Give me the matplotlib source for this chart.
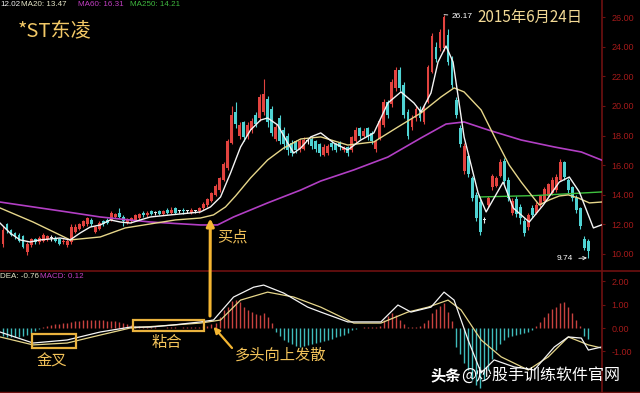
import numpy as np
import matplotlib
matplotlib.use('Agg')
from matplotlib import pyplot as plt
from matplotlib import ticker as tkr
from matplotlib.patches import Rectangle

plt.rcParams['font.family'] = ['Liberation Sans', 'Noto Sans CJK SC']
CJK = ['Noto Sans CJK SC', 'DejaVu Sans']

# daily candles
opens = [
    10.7, 12.0, 11.6, 11.4, 11.3, 11.2, 10.1, 10.6, 11.0, 10.8,
    10.9, 11.0, 11.1, 11.1, 11.0, 10.8, 10.6, 10.8, 11.5, 11.7,
    11.9, 12.0, 12.3, 11.5, 11.7, 12.2, 12.3, 12.3, 12.5, 12.8,
    12.5, 12.1, 12.2, 12.3, 12.4, 12.8, 12.6, 12.9, 12.8, 12.9,
    12.7, 13.0, 12.8, 13.1, 12.9, 13.0, 12.9, 12.8, 12.9, 12.9,
    13.1, 13.3, 13.6, 14.0, 14.3, 15.0, 15.8, 17.5, 19.6, 18.0,
    18.9, 18.0, 18.4, 19.4, 19.2, 19.6, 20.5, 19.8, 17.8, 19.2,
    18.4, 18.0, 17.5, 17.6, 17.0, 17.1, 17.6, 17.8, 17.6, 17.4,
    16.7, 16.8, 17.5, 17.4, 17.5, 17.0, 17.2, 17.0, 17.6, 18.5,
    18.0, 18.5, 18.2, 17.1, 17.8, 18.7, 20.3, 20.1, 21.2, 22.4,
    21.4, 19.6, 18.6, 19.2, 19.8, 18.9, 20.3, 22.3, 24.0, 23.9,
    23.9, 24.8, 23.2, 20.4, 18.5, 15.6, 16.6, 15.1, 14.0, 13.5,
    12.3, 13.3, 14.5, 14.6, 15.3, 16.3, 15.0, 12.8, 13.7, 13.2,
    12.2, 11.8, 13.1, 12.8, 13.3, 13.6, 13.9, 14.1, 14.3, 15.0,
    16.2, 15.0, 14.5, 13.8, 13.1, 11.0, 10.9]
closes = [
    11.6, 11.6, 11.3, 11.2, 10.9, 10.5, 10.7, 11.0, 10.8, 11.1,
    11.3, 11.2, 11.1, 10.9, 10.7, 10.9, 10.9, 11.8, 11.8, 12.0,
    12.2, 12.4, 12.0, 11.8, 12.1, 12.0, 12.1, 12.8, 12.7, 12.5,
    12.2, 12.3, 12.4, 12.6, 12.7, 12.6, 12.8, 12.7, 12.8, 12.7,
    12.9, 12.8, 13.0, 12.8, 12.9, 12.9, 12.9, 13.0, 12.9, 13.1,
    13.4, 13.7, 14.1, 14.6, 15.1, 16.1, 17.6, 19.4, 18.8, 18.7,
    17.9, 18.7, 19.0, 18.8, 20.6, 20.8, 18.9, 18.2, 18.6, 17.6,
    17.4, 17.0, 16.8, 17.0, 17.6, 17.7, 17.6, 17.3, 17.1, 16.8,
    17.2, 17.3, 17.2, 17.0, 17.2, 17.2, 16.8, 17.9, 18.4, 18.0,
    18.3, 17.9, 17.6, 17.6, 19.0, 20.3, 19.4, 21.6, 22.4, 21.2,
    19.4, 18.0, 19.2, 19.8, 19.2, 19.9, 22.6, 24.7, 23.2, 25.0,
    26.0, 23.0, 21.4, 19.4, 17.4, 17.3, 15.4, 13.8, 12.4, 11.5,
    12.3, 13.8, 15.3, 15.1, 16.2, 14.9, 13.8, 13.6, 12.7, 12.4,
    11.4, 12.6, 12.6, 13.3, 13.9, 14.4, 14.7, 15.0, 15.2, 16.2,
    15.2, 14.3, 13.8, 13.0, 11.9, 10.4, 10.2]
highs = [
    11.9, 12.1, 11.7, 11.5, 11.4, 11.3, 10.8, 11.1, 11.1, 11.2,
    11.4, 11.3, 11.3, 11.2, 11.1, 11.0, 11.0, 12.0, 12.0, 12.1,
    12.3, 12.5, 12.4, 11.9, 12.2, 12.3, 12.4, 12.9, 12.8, 13.1,
    12.6, 12.4, 12.5, 12.7, 12.8, 12.9, 12.9, 13.0, 12.9, 13.0,
    13.0, 13.1, 13.2, 13.2, 13.0, 13.1, 13.0, 13.1, 13.0, 13.2,
    13.5, 13.8, 14.2, 14.7, 15.2, 16.2, 17.8, 20.0, 20.3, 18.9,
    19.0, 18.9, 19.2, 19.6, 20.8, 21.8, 20.7, 20.0, 18.8, 19.4,
    18.6, 18.2, 17.7, 17.7, 17.8, 17.9, 17.8, 17.9, 17.7, 17.5,
    17.4, 17.4, 17.6, 17.5, 17.6, 17.3, 17.3, 18.0, 18.6, 18.6,
    18.5, 18.6, 18.3, 17.7, 19.2, 20.5, 20.4, 21.8, 22.6, 22.6,
    21.6, 19.8, 19.4, 20.0, 20.0, 20.1, 22.8, 24.9, 24.3, 25.2,
    26.17, 25.2, 23.4, 20.6, 18.7, 17.5, 16.8, 15.3, 14.2, 13.7,
    12.5, 13.9, 15.4, 15.3, 16.4, 16.5, 15.2, 13.8, 13.9, 13.4,
    12.4, 12.8, 13.3, 13.5, 14.0, 14.5, 14.8, 15.2, 15.4, 16.4,
    16.3, 15.1, 14.6, 14.0, 13.2, 11.2, 11.0]
lows = [
    10.5, 11.4, 11.2, 11.0, 10.8, 10.4, 9.9, 10.5, 10.7, 10.7,
    10.8, 10.9, 10.9, 10.8, 10.6, 10.7, 10.5, 10.7, 11.4, 11.6,
    11.8, 11.9, 11.9, 11.4, 11.6, 11.9, 12.0, 12.2, 12.4, 12.4,
    11.9, 12.0, 12.1, 12.2, 12.3, 12.5, 12.5, 12.6, 12.6, 12.6,
    12.6, 12.7, 12.7, 12.7, 12.8, 12.7, 12.8, 12.7, 12.8, 12.8,
    13.0, 13.2, 13.5, 13.9, 14.2, 14.9, 15.7, 17.4, 18.5, 17.8,
    17.6, 17.8, 18.2, 18.6, 19.0, 19.4, 18.6, 18.0, 17.6, 17.4,
    17.1, 16.7, 16.6, 16.8, 16.9, 17.0, 17.4, 17.1, 16.9, 16.6,
    16.6, 16.7, 17.0, 16.9, 17.0, 16.9, 16.6, 16.9, 17.5, 17.8,
    17.9, 17.7, 17.4, 16.9, 17.7, 18.6, 19.2, 19.9, 21.0, 21.0,
    19.2, 17.8, 18.4, 19.0, 19.0, 18.8, 20.2, 22.2, 23.0, 23.7,
    23.7, 22.8, 21.2, 19.2, 17.2, 15.4, 15.2, 13.6, 12.2, 11.3,
    12.1, 13.2, 14.3, 14.5, 15.2, 14.7, 13.6, 12.6, 12.5, 12.0,
    11.2, 11.6, 12.5, 12.7, 13.2, 13.5, 13.8, 14.0, 14.2, 14.9,
    15.0, 14.1, 13.6, 12.8, 11.7, 10.3, 9.74]

# moving averages, sampled along the drawn curves (x in candle units)
ma5_x = [-0.75, 1.75, 4.25, 6.75, 9.25, 14.25, 16.75, 19.25, 21.75, 24.25,
         26.75, 29.25, 31.75, 34.25, 36.75, 41.75, 46.75, 49.25, 51.75, 54.25,
         56.75, 59.25, 61.75, 64.25, 66, 68.5, 71, 72.5, 74.25, 76.75,
         79.25, 82.5, 86, 89.25, 92.5, 96, 99.25, 102.5, 104.25, 106.75,
         108.5, 110.5, 112.25, 115, 118.5, 120.5, 124.75, 127.25, 131.25, 134.75,
         138.75, 141.25, 143.75, 147.25, 149.25]
ma5_y = [12.09, 11.42, 10.95, 10.81, 10.95, 11.08, 10.95, 11.42, 11.82, 11.96,
         12.30, 12.16, 12.09, 12.30, 12.50, 12.64, 12.77, 12.84, 13.18, 13.85,
         15.47, 17.23, 18.38, 19.05, 19.19, 18.72, 17.50, 16.82, 17.16, 17.91,
         18.18, 17.50, 17.03, 17.70, 18.18, 20.20, 20.95, 20.20, 19.59, 20.88,
         22.97, 24.05, 22.97, 17.91, 14.12, 12.84, 14.86, 13.11, 12.16, 13.31,
         14.86, 15.20, 14.19, 11.76, 11.96]
ma20_x = [-0.75, 7.5, 16.75, 24.25, 30.5, 36.75, 43, 49.25, 52.5, 55.5,
          58, 61.75, 66, 70, 74.25, 79.25, 86, 92.5, 98.5, 104.25,
          109.25, 112.5, 115, 119.25, 123, 126.25, 129.25, 131.75, 133.75, 136.25,
          138.75, 141, 143.5, 146.25, 149.25]
ma20_y = [13.11, 12.16, 10.95, 11.15, 11.76, 12.03, 12.30, 12.43, 12.64, 13.18,
          13.92, 15.14, 16.35, 17.16, 17.77, 17.91, 17.36, 17.57, 18.58, 19.53,
          20.61, 21.22, 20.95, 19.73, 17.70, 16.01, 14.86, 13.99, 13.31, 13.65,
          13.92, 13.99, 13.78, 13.45, 13.51]
ma60_x = [-0.75, 16, 24.25, 36.75, 49.25, 53.5, 57.5, 66, 74.25, 79.25,
          87.5, 96, 104.25, 110.5, 115, 121, 129.25, 137.5, 144.25, 149.25]
ma60_y = [13.51, 12.84, 12.50, 12.16, 11.96, 11.96, 12.50, 13.45, 14.32, 14.93,
          15.68, 16.55, 17.84, 18.78, 18.92, 18.38, 17.70, 17.23, 16.89, 16.35]
ma250_x = [118.75, 133, 149.25]
ma250_y = [13.85, 13.95, 14.19]

# MACD histogram, one bar per candle
macd_bar = [
    -0.35, -0.38, -0.40, -0.40, -0.38, -0.35, -0.30, -0.22, -0.12, -0.05,
    0.03, 0.08, 0.12, 0.15, 0.18, 0.20, 0.22, 0.26, 0.30, 0.32,
    0.34, 0.34, 0.33, 0.34, 0.35, 0.34, 0.32, 0.30, 0.28, 0.24,
    0.20, 0.16, 0.12, 0.10, 0.08, 0.06, 0.05, 0.04, 0.03, 0.02,
    0.02, 0.03, 0.04, 0.03, 0.02, 0.03, 0.04, 0.05, 0.05, 0.06,
    0.08, 0.10, 0.15, 0.20, 0.45, 0.75, 0.90, 1.15, 1.20, 1.10,
    0.90, 0.78, 0.68, 0.60, 0.55, 0.62, 0.48, 0.20, -0.15, -0.35,
    -0.50, -0.60, -0.70, -0.75, -0.80, -0.78, -0.72, -0.70, -0.65, -0.60,
    -0.55, -0.50, -0.45, -0.40, -0.35, -0.28, -0.20, -0.10, -0.05, 0.02,
    0.04, 0.05, 0.05, 0.06, 0.10, 0.35, 0.50, 0.62, 0.55, 0.35,
    0.18, 0.05, 0.04, 0.06, 0.10, 0.20, 0.34, 0.65, 0.80, 0.95,
    1.05, 0.70, 0.30, -0.80, -1.10, -1.50, -1.80, -2.20, -2.45, -2.55,
    -2.20, -1.80, -1.30, -0.95, -0.70, -0.50, -0.38, -0.32, -0.28, -0.24,
    -0.20, -0.16, -0.10, 0.10, 0.25, 0.45, 0.65, 0.80, 0.90, 1.05,
    1.10, 0.90, 0.65, 0.35, 0.10, -0.35, -0.45]
dif_x = [-0.75, 7.5, 16, 24.25, 31.75, 36.75, 42.5, 49.25, 52.5, 57.5,
         62.5, 65, 70, 76, 79.25, 86, 94.25, 98.5, 101.75, 106.75,
         110, 112.5, 116, 119.25, 122.5, 127.5, 132.5, 137.5, 141, 144.25,
         146, 149.25]
dif_y = [-0.17, -0.64, -0.51, -0.17, 0.04, 0.04, 0.13, 0.26, 0.34, 1.32,
         1.74, 1.83, 1.49, 0.89, 0.68, 0.26, 0.26, 0.98, 0.68, 0.89,
         1.53, 1.19, -0.51, -1.91, -1.36, -1.66, -1.79, -0.81, -0.38, -0.43,
         -0.94, -0.81]
dea_x = [-0.75, 7.5, 16, 24.25, 31.75, 49.25, 54.25, 59.25, 66, 72.5,
         79.25, 87.5, 94.25, 101, 106, 111, 114.25, 119.25, 124.25, 131,
         136, 141, 146, 149.25]
dea_y = [-0.38, -0.72, -0.64, -0.30, 0.0, 0.21, 0.34, 1.19, 1.53, 1.32,
         0.89, 0.21, 0.21, 0.68, 0.89, 1.19, 0.77, -0.51, -1.23, -1.79,
         -1.23, -0.38, -0.72, -0.85]

price_ticks = [10, 12, 14, 16, 18, 20, 22, 24, 26]
macd_ticks = [-1, 0, 1, 2]

# colours
UP = '#e2433f'
DOWN = '#4fd3d3'
FLAT = '#e8e8e8'
AXIS_RED = '#6e1010'
LABEL_RED = '#a31a1a'
GOLD = '#f2c25a'

W, H = 640, 393
SEP = 271      # pixel row of the panel divider
AX_R = 602     # pixel column of the price axis

def fx(x):
    return x / W

def fy(y):
    return 1 - y / H

fig = plt.figure(figsize=(W / 100, H / 100), dpi=100, facecolor='black')
ax1 = fig.add_axes([0, fy(SEP), AX_R / W, SEP / H])
ax2 = fig.add_axes([0, 0, AX_R / W, (H - SEP) / H])
ax1.set_zorder(3)

for ax in (ax1, ax2):
    ax.set_facecolor('none')
    for s in ('top', 'bottom', 'left'):
        ax.spines[s].set_visible(False)
    ax.spines['right'].set_color(AXIS_RED)
    ax.spines['right'].set_linewidth(1.2)
    ax.yaxis.tick_right()
    ax.tick_params(axis='y', colors=AXIS_RED, labelcolor=LABEL_RED,
                   labelsize=6.5, length=2, pad=5)
    ax.tick_params(axis='x', bottom=False, labelbottom=False)
    ax.yaxis.set_major_formatter(tkr.FormatStrFormatter('%.2f'))
    ax.set_xlim(-0.75, 149.4)

ax1.set_ylim(8.85, 27.16)
ax1.set_yticks(price_ticks)
ax2.set_ylim(-2.77, 2.43)
ax2.set_yticks(macd_ticks)

# candles
o = np.array(opens)
c = np.array(closes)
hi = np.array(highs)
lo = np.array(lows)
x = np.arange(len(o))
col = np.where(c > o, UP, np.where(c < o, DOWN, FLAT))
ax1.vlines(x, lo, hi, colors=col, lw=0.8, zorder=2)
body = np.maximum(np.abs(c - o), 0.07)
ax1.bar(x, body, bottom=np.minimum(o, c), width=0.72, color=col,
        linewidth=0, zorder=2)

ax1.plot(ma60_x, ma60_y, color='#b23fc4', lw=1.2, zorder=3)
ax1.plot(ma250_x, ma250_y, color='#3fc23f', lw=1.0, zorder=3)
ax1.plot(ma20_x, ma20_y, color='#e6d68a', lw=1.0, zorder=4)
ax1.plot(ma5_x, ma5_y, color='#f4f4f4', lw=1.0, zorder=5)

# MACD panel
hb = np.array(macd_bar)
ax2.vlines(np.arange(len(hb)), 0, hb,
           colors=np.where(hb >= 0, '#c8423f', '#3fbcbc'), lw=1.0)
ax2.plot(dea_x, dea_y, color='#e6d68a', lw=0.9)
ax2.plot(dif_x, dif_y, color='#f4f4f4', lw=0.9)

# divider lines across the full width
fig.add_artist(plt.Line2D([0, 1], [fy(SEP), fy(SEP)], color=AXIS_RED, lw=1.2))
fig.add_artist(plt.Line2D([0, 1], [fy(392), fy(392)], color=AXIS_RED, lw=1.0))

# headers
hdr = [('12.02', '#f0f0f0', 0), ('MA20: 13.47', '#e6e6c8', 21),
       ('MA60: 16.31', '#c23fc2', 78), ('MA250: 14.21', '#3fb83f', 130)]
for t, cl, px in hdr:
    fig.text(fx(px), fy(5), t, color=cl, fontsize=5.8, va='center')
fig.text(fx(0), fy(277), 'DEA: -0.76', color='#e6e6c8', fontsize=5.8, va='center')
fig.text(fx(40), fy(277), 'MACD: 0.12', color='#c23fc2', fontsize=5.8, va='center')

fig.text(fx(18), fy(31), '*ST东凌', color='#f2c866', fontsize=14.5,
         family=CJK, va='center')
fig.text(fx(477), fy(17), '2015年6月24日', color='#f3da96', fontsize=11,
         family=CJK, va='center')

# high / low marks
imax = int(np.argmax(hi))
imin = int(np.argmin(lo))
ax1.annotate('%.2f' % hi[imax], xy=(imax, hi[imax]), xytext=(452, H - 16),
             textcoords='figure pixels', color='white', fontsize=6, va='center',
             arrowprops=dict(arrowstyle='-', color='white', lw=0.6,
                             shrinkA=1, shrinkB=0),
             annotation_clip=False)
ax1.annotate('%.2f' % lo[imin], xy=(imin, lo[imin]), xytext=(557, H - 259),
             textcoords='figure pixels', color='white', fontsize=6, va='center',
             arrowprops=dict(arrowstyle='->', color='white', lw=0.6,
                             shrinkA=2, shrinkB=1, mutation_scale=6),
             annotation_clip=False)

# buy point arrow
ax1.annotate('', xy=(51.7, 12.4), xytext=(210, H - 316),
             textcoords='figure pixels',
             arrowprops=dict(arrowstyle='-|>', color='#f5b632', lw=2.2,
                             mutation_scale=11, shrinkA=0, shrinkB=0),
             annotation_clip=False)
fig.text(fx(217), fy(237), '买点', color=GOLD, fontsize=11, family=CJK, va='center')

# MACD annotations
ax2.add_patch(Rectangle((7.25, -0.85), 11, 0.59, fill=False, ec='#e9b23e',
                        lw=1.6, clip_on=False, zorder=5))
ax2.add_patch(Rectangle((32.5, -0.13), 17.75, 0.47, fill=False, ec='#e9b23e',
                        lw=1.6, clip_on=False, zorder=5))
fig.text(fx(52), fy(361), '金叉', color=GOLD, fontsize=11, family=CJK,
         ha='center', va='center')
fig.text(fx(167), fy(343), '粘合', color=GOLD, fontsize=11, family=CJK,
         ha='center', va='center')
fig.text(fx(235), fy(355), '多头向上发散', color=GOLD, fontsize=11, family=CJK,
         va='center')
ax2.annotate('', xy=(52.5, 0.05), xytext=(232, H - 348),
             textcoords='figure pixels',
             arrowprops=dict(arrowstyle='-|>', color='#f5b632', lw=1.6,
                             mutation_scale=9, shrinkA=0, shrinkB=0),
             annotation_clip=False)

# watermark
fig.text(fx(430), fy(375), '头条', color='white', fontsize=11, family=CJK,
         fontweight='bold', va='center', zorder=10)
fig.text(fx(461), fy(375), '@炒股手训练软件官网', color='white', fontsize=11.5,
         family=CJK, va='center', zorder=10)

fig.savefig('out.png', dpi=100, facecolor='black')
